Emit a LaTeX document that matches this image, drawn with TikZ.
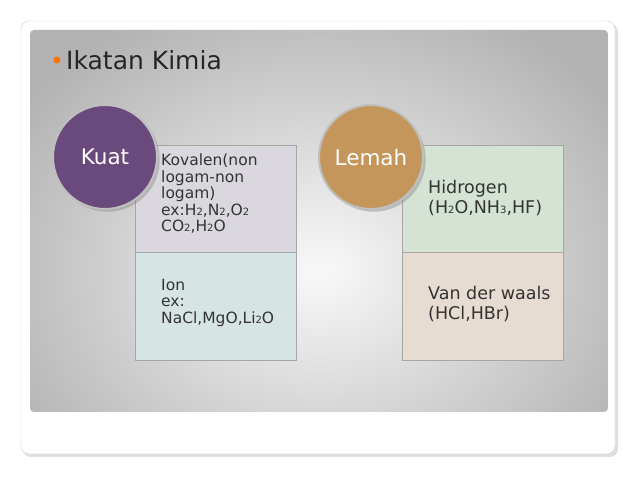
\documentclass[tikz,border=0pt]{standalone}
\usepackage{fontspec}
\setmainfont{DejaVu Sans}
\usetikzlibrary{shadows}
\newcommand\sbs[1]{{\fontsize{10}{10}\selectfont #1}}
\definecolor{kuatc}{HTML}{6A4A7C}
\definecolor{lemahc}{HTML}{C4965B}
\tikzset{
  card/.style={draw=gray!70, line width=0.8pt},
  circ/.style={circle, minimum size=104pt, draw=gray!50, line width=2pt, text=white, font=\fontsize{21.5}{24}\selectfont, drop shadow={opacity=0.4}},
  txt/.style={anchor=north west, align=left, inner sep=0pt, text=black!80},
}
\begin{document}
\begin{tikzpicture}[x=1pt,y=-1pt]
\useasboundingbox (0,0) rectangle (638,478);
\fill[white] (0,0) rectangle (638,478);
\fill[gray!25, rounded corners=8pt] (23,24) rectangle (618,457);
\draw[gray!40, fill=white, rounded corners=8pt] (21,21) rectangle (615,454);
\begin{scope}
\clip[rounded corners=4pt] (30,30) rectangle (608,412);
\shade[inner color=gray!5, outer color=gray!60] (-40,-20) rectangle (678,560);
\end{scope}
\fill[orange!90!red] (57,60) circle (3.5pt);
\node[anchor=west, inner sep=0pt, text=black!85, font=\fontsize{25}{28}\selectfont] (title) at (66,60) {Ikatan Kimia};
% left
\node[card, fill={rgb,255:red,218;green,216;blue,222}, minimum width=161pt, minimum height=107pt, anchor=north west, inner sep=0pt] (k1) at (135,145) {};
\node[card, fill={rgb,255:red,215;green,228;blue,228}, minimum width=161pt, minimum height=108pt, anchor=north west, inner sep=0pt] (k2) at (135,252) {};
\node[txt, font=\fontsize{15.5}{16.5}\selectfont] (kt1) at (161,154) {Kovalen(non\\logam-non\\logam)\\ex:H\sbs{2},N\sbs{2},O\sbs{2}\\CO\sbs{2},H\sbs{2}O};
\node[txt, font=\fontsize{15.5}{16.5}\selectfont] (kt2) at (161,279) {Ion\\ex:\\NaCl,MgO,Li\sbs{2}O};
\node[circ, fill=kuatc] (kuat) at (105,157) {Kuat};
% right
\node[card, fill={rgb,255:red,212;green,227;blue,211}, minimum width=161pt, minimum height=107pt, anchor=north west, inner sep=0pt] (l1) at (402,145) {};
\node[card, fill={rgb,255:red,231;green,220;blue,210}, minimum width=161pt, minimum height=108pt, anchor=north west, inner sep=0pt] (l2) at (402,252) {};
\node[txt, font=\fontsize{17.5}{20}\selectfont] (lt1) at (428,180) {Hidrogen\\(H\sbs{2}O,NH\sbs{3},HF)};
\node[txt, font=\fontsize{17.5}{20}\selectfont] (lt2) at (428,286) {Van der waals\\(HCl,HBr)};
\node[circ, fill=lemahc] (lemah) at (371,157) {Lemah};
\end{tikzpicture}
\end{document}
